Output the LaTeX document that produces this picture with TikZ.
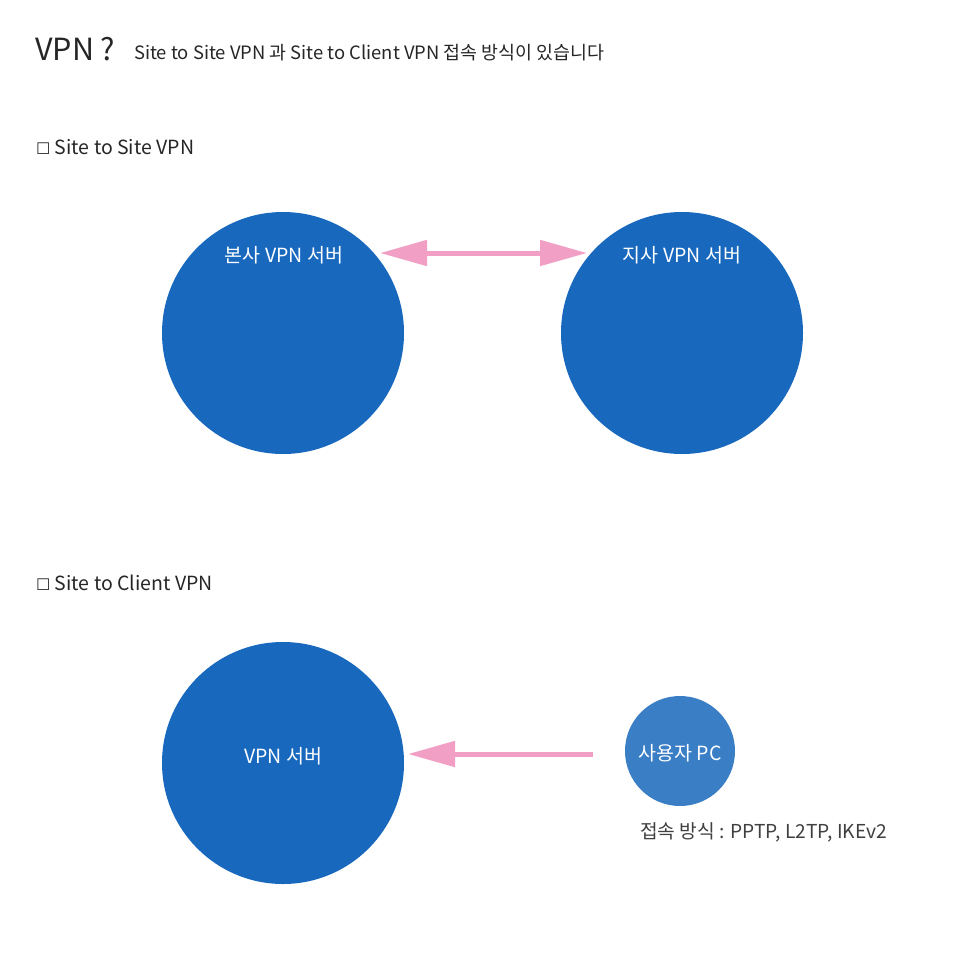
\documentclass[tikz,border=0pt]{standalone}
\usepackage{fontspec}
\setmainfont{Noto Sans CJK KR}
\newfontfamily\symfont{DejaVu Sans}
\usetikzlibrary{arrows.meta}
\definecolor{bigblue}{HTML}{1868BE}
\definecolor{smallblue}{HTML}{3A7EC6}
\definecolor{pinkarrow}{HTML}{F29FC5}
\definecolor{txtgray}{HTML}{404040}
\begin{document}
\begin{tikzpicture}[x=1pt,y=-1pt,
  bigcirc/.style={circle,fill=bigblue,minimum size=242pt,inner sep=0pt},
  smallcirc/.style={circle,fill=smallblue,minimum size=110pt,inner sep=0pt},
  lbl/.style={text=white,font=\fontsize{19.5}{22}\selectfont,inner sep=0pt},
  pinkline/.style={draw=pinkarrow,line width=5pt},
  tip/.style={-{Triangle[length=47pt,width=25pt]}}]
\useasboundingbox[fill=white] (0,0) rectangle (960,980);
% title
\node[anchor=base west,inner sep=0pt,text=black!85,font=\fontsize{30.5}{34}\selectfont] (title) at (35,60) {VPN ?};
\node[anchor=base west,inner sep=0pt,text=black!85,font=\fontsize{18.4}{22}\selectfont] (sub) at (134,59) {Site to Site VPN 과 Site to Client VPN 접속 방식이 있습니다};
% section 1
\node[anchor=base west,inner sep=0pt,text=black!85,font=\fontsize{19.5}{22}\selectfont] (s1) at (36,154) {{\symfont\fontsize{16}{18}\selectfont ☐} Site to Site VPN};
\node[bigcirc] (hq) at (283,333) {};
\node[bigcirc] (br) at (682,333) {};
\node[lbl] (hqlbl) at (284,255) {본사 VPN 서버};
\node[lbl] (brlbl) at (682,255) {지사 VPN 서버};
\coordinate (a1) at (380,253);
\coordinate (a2) at (587,253);
\draw[pinkline,{Triangle[length=47pt,width=25pt]}-{Triangle[length=47pt,width=25pt]}] (a1) -- (a2);
% section 2
\node[anchor=base west,inner sep=0pt,text=black!85,font=\fontsize{19.5}{22}\selectfont] (s2) at (36,590) {{\symfont\fontsize{16}{18}\selectfont ☐} Site to Client VPN};
\node[bigcirc] (srv) at (283,763) {};
\node[lbl] (srvlbl) at (283,756) {VPN 서버};
\node[smallcirc] (pc) at (680,751) {};
\node[lbl] (pclbl) at (680,753) {사용자 PC};
\coordinate (b1) at (593,754);
\coordinate (b2) at (408,754);
\draw[pinkline,tip] (b1) -- (b2);
\node[anchor=base west,inner sep=0pt,text=txtgray,font=\fontsize{19.2}{22}\selectfont] (proto) at (640,838) {접속 방식 : PPTP, L2TP, IKEv2};
\end{tikzpicture}
\end{document}
